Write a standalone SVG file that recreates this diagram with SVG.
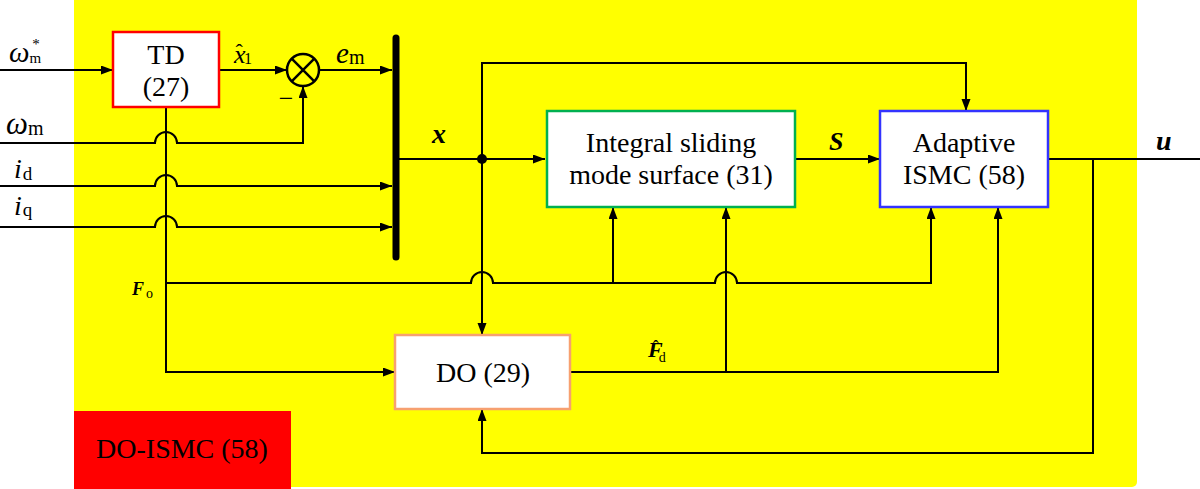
<svg xmlns="http://www.w3.org/2000/svg" width="1200" height="489" viewBox="0 0 1200 489">
<defs>
<marker id="arr" markerUnits="userSpaceOnUse" markerWidth="13" markerHeight="10" refX="12" refY="4.5" orient="auto">
<path d="M0,0 L12,4.5 L0,9 z" fill="#000"/>
</marker>
<style>
.w{stroke:#000;stroke-width:2;fill:none}
.a{marker-end:url(#arr)}
.t{font-family:"Liberation Serif","Times New Roman",serif;font-size:28px;fill:#000}
.i{font-family:"Liberation Serif","Times New Roman",serif;font-style:italic;fill:#000}
.bi{font-family:"Liberation Serif","Times New Roman",serif;font-style:italic;font-weight:bold;fill:#000}
.r{font-family:"Liberation Serif","Times New Roman",serif;font-style:normal;font-weight:normal;fill:#000}
</style>
</defs>
<rect x="0" y="0" width="1200" height="489" fill="#fff"/>
<rect id="bg" x="74" y="-10" width="1063" height="497" rx="5" fill="#ffff00"/>
<g id="do-ismc-label">
<rect x="74" y="411" width="217" height="78" fill="#ff0000"/>
<text class="t" x="182" y="458" text-anchor="middle">DO-ISMC (58)</text>
</g>
<g id="connectors">
<path class="w a" d="M0,70 H113"/>
<path class="w a" d="M219,70 H287"/>
<path class="w a" d="M319,70 H392"/>
<path class="w a" d="M0,143 H155 A11,11 0 0 1 177,143 H303 V86"/>
<path class="w a" d="M0,186 H155 A11,11 0 0 1 177,186 H392"/>
<path class="w a" d="M0,227 H155 A11,11 0 0 1 177,227 H392"/>
<path class="w a" d="M166,107 V372 H395"/>
<path class="w a" d="M166,283 H471 A11,11 0 0 1 493,283 H715 A11,11 0 0 1 737,283 H931 V207"/>
<path class="w a" d="M613,283 V207"/>
<path class="w a" d="M399,159 H545"/>
<path class="w a" d="M482,159 V63 H966 V111"/>
<path class="w a" d="M482,159 V335"/>
<circle cx="482" cy="159" r="5" fill="#000"/>
<path class="w a" d="M795,159 H880"/>
<path class="w" d="M1048,159 H1200"/>
<path class="w a" d="M1093,159 V453 H482 V409"/>
<path class="w a" d="M570,372 H998 V207"/>
<path class="w a" d="M726,372 V207"/>
</g>
<g id="td">
<rect x="113" y="32" width="106" height="75" fill="#fff" stroke="#ff0000" stroke-width="2.5"/>
<text class="t" x="166" y="64" text-anchor="middle">TD</text>
<text class="t" x="166" y="96" text-anchor="middle">(27)</text>
</g>
<g id="sum">
<circle cx="303" cy="70" r="16" fill="none" stroke="#000" stroke-width="2.5"/>
<path d="M291.7,58.7 L314.3,81.3 M314.3,58.7 L291.7,81.3" stroke="#000" stroke-width="2.5"/>
<text class="r" x="286" y="107" font-size="26" text-anchor="middle">−</text>
</g>
<g id="mux">
<line x1="396" y1="38" x2="396" y2="257" stroke="#000" stroke-width="7" stroke-linecap="round"/>
</g>
<g id="ism">
<rect x="547" y="111" width="248" height="96" fill="#fff" stroke="#00b050" stroke-width="2.5"/>
<text class="t" x="671" y="152" text-anchor="middle">Integral sliding</text>
<text class="t" x="671" y="184" text-anchor="middle">mode surface (31)</text>
</g>
<g id="aismc">
<rect x="880" y="111" width="168" height="96" fill="#fff" stroke="#3333ff" stroke-width="2.5"/>
<text class="t" x="964" y="152" text-anchor="middle">Adaptive</text>
<text class="t" x="964" y="184" text-anchor="middle">ISMC (58)</text>
</g>
<g id="do">
<rect x="395" y="335" width="175" height="74" fill="#fff" stroke="#f7a070" stroke-width="2.5"/>
<text class="t" x="483" y="382" text-anchor="middle">DO (29)</text>
</g>
<g id="labels">
<text class="i" x="9" y="62" font-size="29">ω<tspan class="r" font-size="15" dy="1">m</tspan><tspan class="r" font-size="15" dx="-9" dy="-14">*</tspan></text>
<text class="i" x="6" y="134" font-size="31">ω<tspan class="r" font-size="20" dy="1">m</tspan></text>
<text class="i" x="14" y="178" font-size="28">i<tspan class="r" font-size="19" dx="1" dy="2">d</tspan></text>
<text class="i" x="14" y="215" font-size="28">i<tspan class="r" font-size="19" dx="1" dy="1">q</tspan></text>
<text class="i" x="234" y="63" font-size="26">x<tspan class="r" font-size="22" dx="-10" dy="-4">ˆ</tspan><tspan class="r" font-size="16" dx="1" dy="5">1</tspan></text>
<text class="i" x="336" y="63" font-size="29">e<tspan class="r" font-size="20" dy="1">m</tspan></text>
<text class="bi" x="432" y="143" font-size="28">x</text>
<text class="bi" x="829" y="150" font-size="26">S</text>
<text class="bi" x="1156" y="150" font-size="28">u</text>
<text class="bi" x="132" y="295" font-size="18">F<tspan class="r" font-size="14" dx="2" dy="3">o</tspan></text>
<text class="bi" x="648" y="357" font-size="22">F<tspan class="r" font-size="18" dx="-10" dy="-4">ˆ</tspan><tspan class="r" font-size="14" dx="0" dy="9">d</tspan></text>
</g>
</svg>
